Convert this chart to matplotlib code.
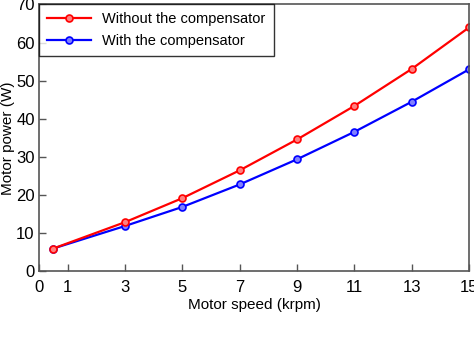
import matplotlib
matplotlib.use("Agg")
import matplotlib.pyplot as plt

# motor speed (krpm)
speed = [0.5, 3, 5, 7, 9, 11, 13, 15]
# motor power (W)
power_without = [6.0, 12.9, 19.2, 26.5, 34.6, 43.4, 53.1, 64.0]
power_with = [6.0, 11.9, 16.9, 22.8, 29.4, 36.6, 44.5, 53.0]

xticks = [0, 1, 3, 5, 7, 9, 11, 13, 15]
yticks = [0, 10, 20, 30, 40, 50, 60, 70]

plt.rcParams['font.family'] = ['Liberation Sans', 'DejaVu Sans']
plt.rcParams['font.size'] = 10

fig = plt.figure(figsize=(4.74, 3.38), dpi=100)
ax = fig.add_axes([0.082, 0.197, 0.908, 0.790])

b, = ax.plot(speed, power_with, color='#0000ff', lw=1.6, marker='o', ms=5,
             mfc='#8080ff', mec='#0000ff', mew=1.2, label='With the compensator')
r, = ax.plot(speed, power_without, color='#ff0000', lw=1.6, marker='o', ms=5,
             mfc='#ff8080', mec='#ff0000', mew=1.2, label='Without the compensator')

ax.set_xlim(0, 15)
ax.set_ylim(0, 70)
ax.set_xticks(xticks)
ax.set_yticks(yticks)
ax.tick_params(direction='in', length=5, width=1, color='#555555', labelsize=12)
ax.tick_params(axis='x', pad=6)
ax.tick_params(axis='y', pad=3)
for s in ax.spines.values():
    s.set_color('#555555')
    s.set_linewidth(1.2)

ax.set_xlabel('Motor speed (krpm)', fontsize=11, labelpad=2)
ax.set_ylabel('Motor power (W)', fontsize=11, labelpad=1)

leg = ax.legend([r, b], ['Without the compensator', 'With the compensator'],
                loc='upper left', bbox_to_anchor=(0, 1), borderaxespad=0,
                fancybox=False, edgecolor='black', fontsize=10.5,
                handlelength=3, borderpad=0.55, labelspacing=0.55)
leg.get_frame().set_linewidth(1.0)

fig.savefig('out.png', dpi=100)
